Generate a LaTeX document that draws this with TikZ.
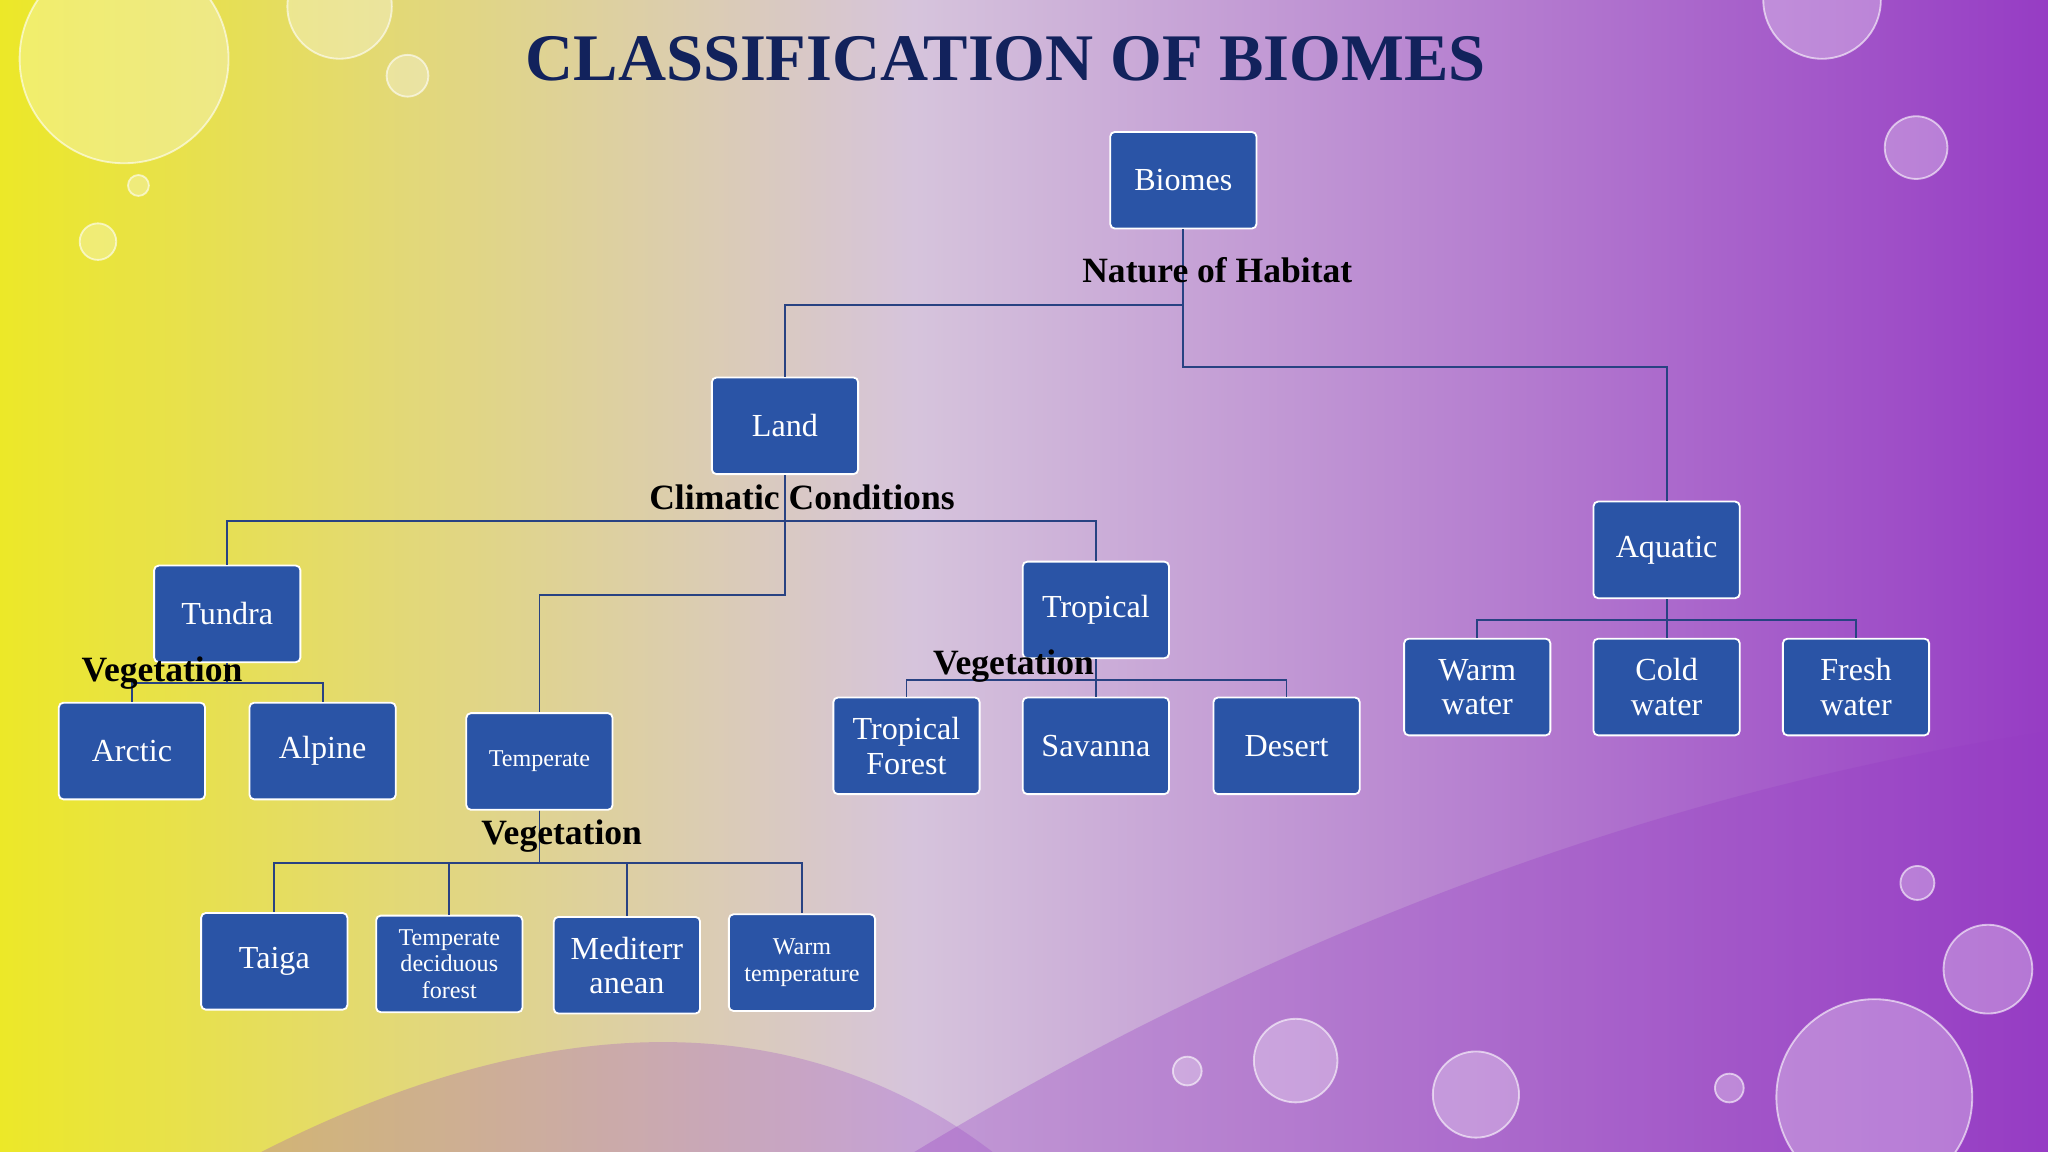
\documentclass[tikz,border=0pt]{standalone}
\usepackage{fontspec}
\setmainfont{Liberation Serif}
\usetikzlibrary{positioning}
\definecolor{boxblue}{RGB}{42,84,166}
\definecolor{linknavy}{RGB}{40,66,130}
\definecolor{titlenavy}{RGB}{18,34,92}
\definecolor{bgyellow}{RGB}{236,232,40}
\definecolor{bgmid}{RGB}{214,196,220}
\definecolor{bgpurple}{RGB}{150,60,196}
\tikzset{
  biome/.style={draw=white, thick, fill=boxblue, rounded corners=2pt, minimum width=2.24cm,
    minimum height=1.48cm, text=white, align=center, font=\fontsize{14}{15}\selectfont},
  small/.style={font=\fontsize{10.5}{11.5}\selectfont},
  link/.style={draw=linknavy, thick},
  crit/.style={font=\bfseries\fontsize{15.5}{16}\selectfont, text=black},
  bubble/.style={fill=white, fill opacity=0.3, draw=white, draw opacity=0.6, thick}
}
\begin{document}
\begin{tikzpicture}[x=0.02cm, y=-0.02cm]
	% background
	\useasboundingbox (0,0) rectangle (1568,882);
	\clip (0,0) rectangle (1568,882);
	\shade[left color=bgyellow, right color=bgmid] (0,0) rectangle (700,882);
	\shade[left color=bgmid, right color=bgpurple] (699.5,0) rectangle (1568,882);
	\fill[bgpurple, opacity=0.3] (700,882) .. controls (1000,700) and (1300,600) .. (1568,560) -- (1568,882) -- cycle;
	\fill[bgpurple, opacity=0.25] (200,882) .. controls (400,780) and (600,760) .. (760,882) -- cycle;
	\foreach \x/\y/\r in {95/45/80, 260/5/40, 312/58/16, 106/142/8, 75/185/14, 1395/0/45, 1467/113/24,
		1468/676/13, 1522/742/34, 1435/840/75, 992/812/32, 1130/838/33, 909/820/11, 1324/833/11}
		\draw[bubble] (\x,\y) circle (\r);

	\node[font=\bfseries\fontsize{29}{31}\selectfont, text=titlenavy] (title) at (770,45) {CLASSIFICATION OF BIOMES};

	% tree
	\node[biome] (biomes) at (906,138) {Biomes};
	\node[biome] (land) at (601,326) {Land};
	\node[biome] (aquatic) at (1276,421) {Aquatic};
	\node[biome] (tundra) at (174,470) {Tundra};
	\node[biome] (tropical) at (839,467) {Tropical};
	\node[biome, small] (temperate) at (413,583) {Temperate};
	\node[biome] (arctic) at (101,575) {Arctic};
	\node[biome] (alpine) at (247,575) {Alpine};
	\node[biome] (tropforest) at (694,571) {Tropical\\Forest};
	\node[biome] (savanna) at (839,571) {Savanna};
	\node[biome] (desert) at (985,571) {Desert};
	\node[biome] (warmwater) at (1131,526) {Warm\\water};
	\node[biome] (coldwater) at (1276,526) {Cold\\water};
	\node[biome] (freshwater) at (1421,526) {Fresh\\water};
	\node[biome] (taiga) at (210,736) {Taiga};
	\node[biome, small] (tempdec) at (344,738) {Temperate\\deciduous\\forest};
	\node[biome] (medit) at (480,739) {Mediterr\\anean};
	\node[biome, small] (warmtemp) at (614,737) {Warm\\temperature};

	\path[link] (biomes.south) -- ++(0,58) -| (land.north);
	\path[link] (biomes.south) -- ++(0,105) -| (aquatic.north);
	\path[link] (land.south) -- ++(0,35) -| (tundra.north);
	\path[link] (land.south) -- ++(0,35) -| (tropical.north);
	\path[link] (land.south) -- ++(0,92) -| (temperate.north);
	\foreach \n in {arctic, alpine}
		\path[link] (tundra.south) -- ++(0,15) -| (\n.north);
	\foreach \n in {tropforest, savanna, desert}
		\path[link] (tropical.south) -- ++(0,16) -| (\n.north);
	\foreach \n in {warmwater, coldwater, freshwater}
		\path[link] (aquatic.south) -- ++(0,16) -| (\n.north);
	\foreach \n in {taiga, tempdec, medit, warmtemp}
		\path[link] (temperate.south) -- ++(0,40) -| (\n.north);

	% criteria
	\node[crit] (habitat) at (932,207) {Nature of Habitat};
	\node[crit] (climate) at (614,381) {Climatic Conditions};
	\node[crit] (vegtundra) at (124,515) {Vegetation};
	\node[crit] (vegtrop) at (776,510) {Vegetation};
	\node[crit] (vegtemp) at (430,640) {Vegetation};
\end{tikzpicture}
\end{document}
